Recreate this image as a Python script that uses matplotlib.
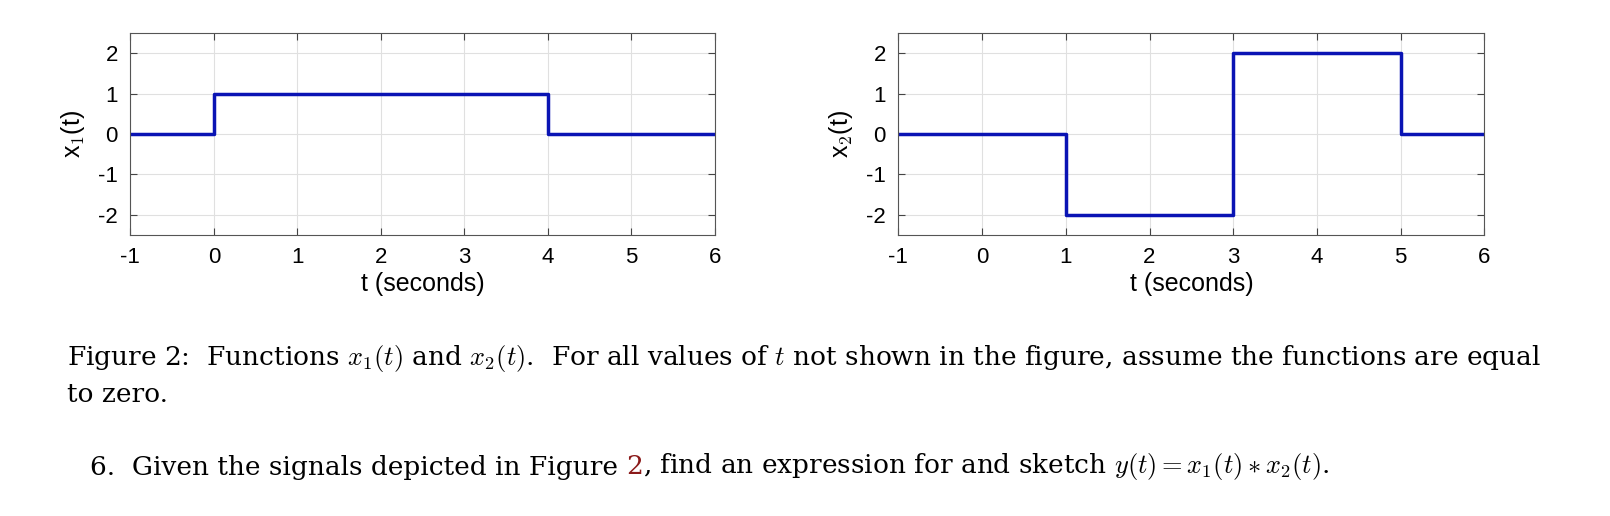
import matplotlib.pyplot as plt
import numpy as np

# step signals (breakpoints and values)
t1 = [-1, 0, 4, 6]
x1 = [0, 1, 0, 0]
t2 = [-1, 1, 3, 5, 6]
x2 = [0, -2, 2, 0, 0]
xticks = [-1, 0, 1, 2, 3, 4, 5, 6]
yticks = [-2, -1, 0, 1, 2]

plt.rcParams['mathtext.fontset'] = 'cm'
fig = plt.figure(figsize=(16.1, 5.16), dpi=100)

def panel(rect, t, x, ylab):
    ax = fig.add_axes(rect)
    ax.step(t, x, where='post', color='#0a14b4', lw=2.5)
    ax.set_xlim(-1, 6)
    ax.set_ylim(-2.5, 2.5)
    ax.set_xticks(xticks)
    ax.set_yticks(yticks)
    ax.set_xticklabels([str(v) for v in xticks], fontsize=16, family='Liberation Sans')
    ax.set_yticklabels([str(v) for v in yticks], fontsize=16, family='Liberation Sans')
    ax.grid(True, color='#e0e0e0', lw=0.8)
    ax.tick_params(direction='in', top=True, right=True, length=5, color='#444444', pad=9)
    for s in ax.spines.values():
        s.set_color('#555555')
    ax.set_xlabel('t (seconds)', fontsize=18, labelpad=3, family='Liberation Sans')
    ax.set_ylabel(ylab, fontsize=18, labelpad=8, family='Liberation Sans')
    return ax

panel([0.081, 0.545, 0.363, 0.391], t1, x1, 'x$_1$(t)')
panel([0.558, 0.545, 0.364, 0.391], t2, x2, 'x$_2$(t)')

fs = 19
fam = 'DejaVu Serif'
fig.text(0.0416, 1 - 358 / 516, r'Figure 2:  Functions $x_1(t)$ and $x_2(t)$.  For all values of $t$ not shown in the figure, assume the functions are equal',
         fontsize=fs, family=fam, va='center')
fig.text(0.0416, 1 - 395 / 516, 'to zero.', fontsize=fs, family=fam, va='center')

# item 6 with red reference number, laid out piece by piece
r = fig.canvas.get_renderer()
parts = [('6.  Given the signals depicted in Figure ', 'black'), ('2', '#8b1a1a'),
         (r', find an expression for and sketch $y(t) = x_1(t) * x_2(t)$.', 'black')]
xpos = 0.056
for s, c in parts:
    tx = fig.text(xpos, 1 - 467 / 516, s, fontsize=fs, family=fam, va='center', color=c)
    bb = tx.get_window_extent(renderer=r)
    xpos += bb.width / fig.bbox.width

fig.savefig('out.png', dpi=100)
